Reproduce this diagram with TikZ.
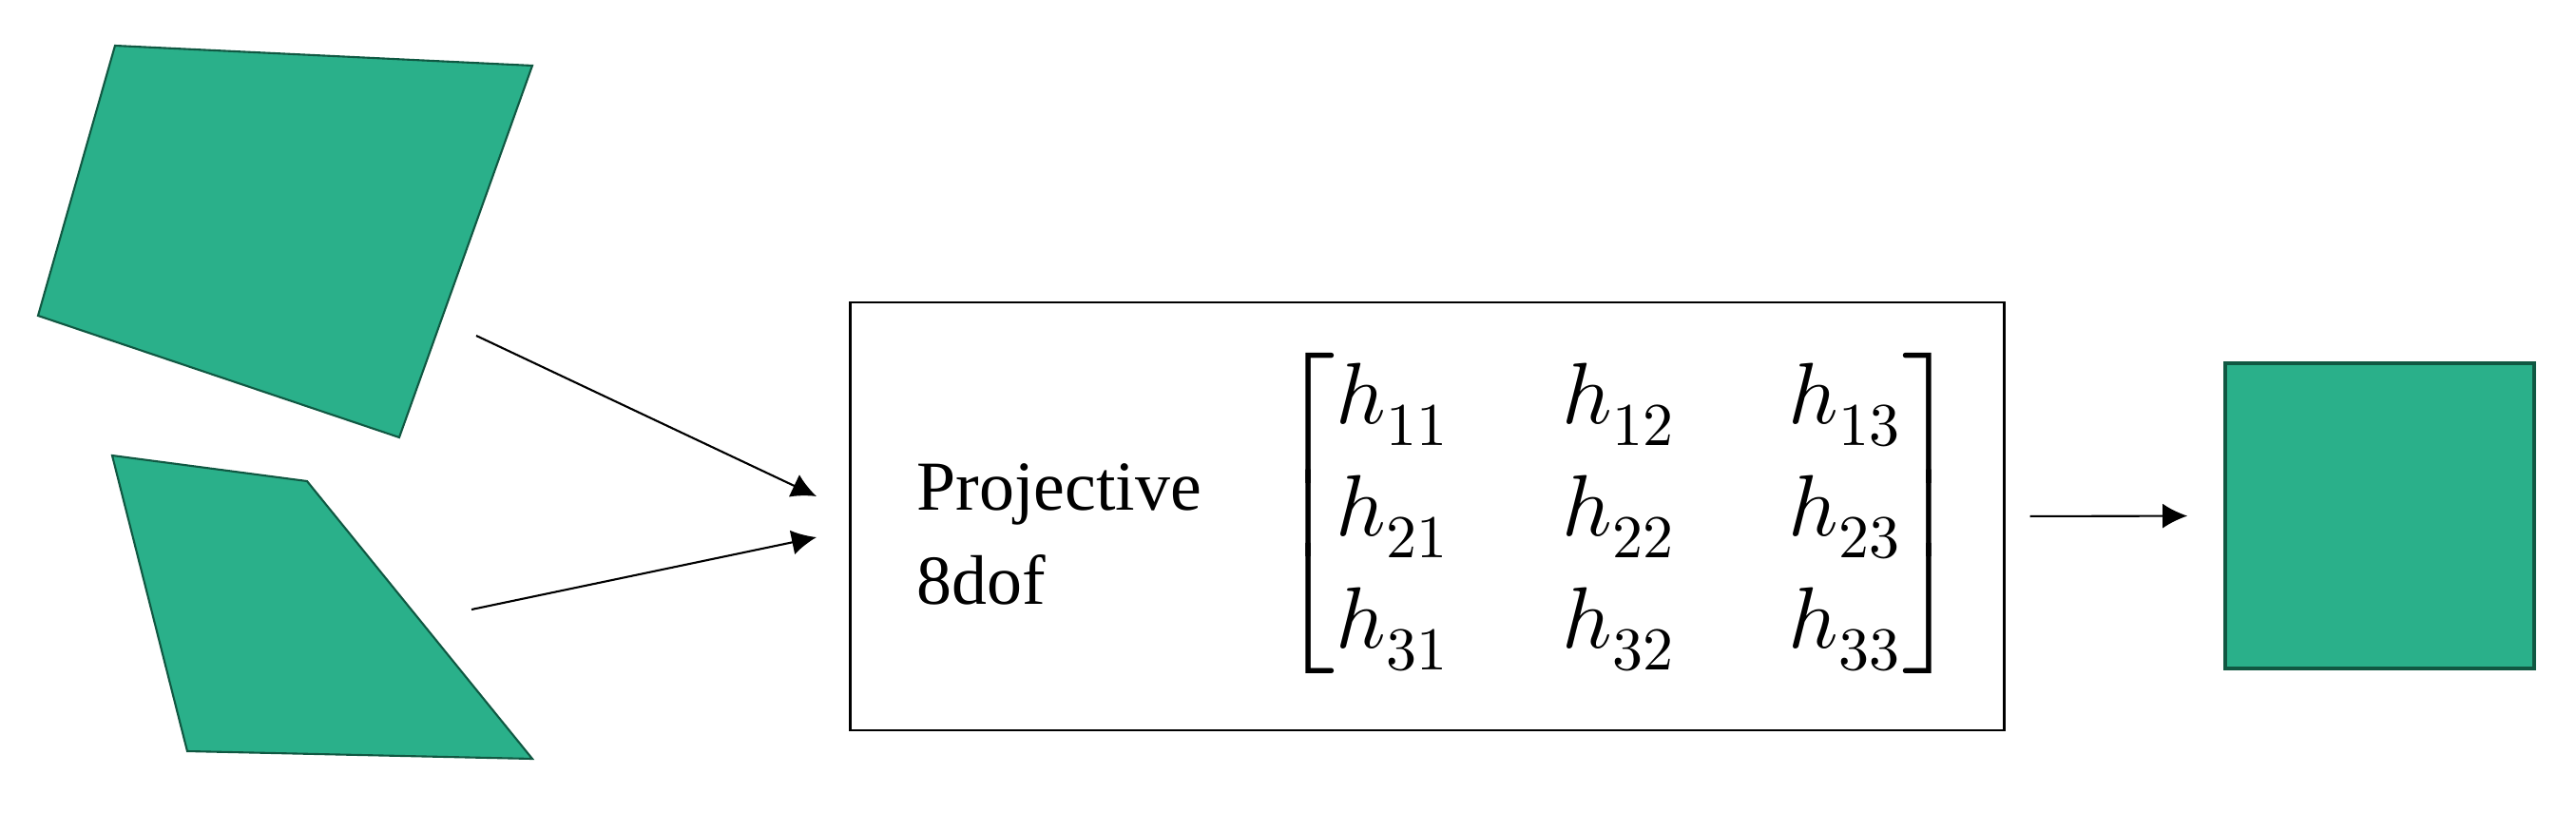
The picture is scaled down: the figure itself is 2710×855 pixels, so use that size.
\documentclass[tikz,border=0pt]{standalone}
\usepackage{amsmath}
\usepackage{fontspec}
\usepackage{unicode-math}
\setmainfont{Liberation Serif}
\usetikzlibrary{arrows.meta}
\definecolor{tile}{RGB}{42,176,138}
\definecolor{tileedge}{RGB}{16,88,66}

\begin{document}
\begin{tikzpicture}[x=0.01cm, y=-0.01cm,
  tile/.style={fill=tile, draw=tileedge, line width=0.6pt},
  link/.style={-{Latex[length=2.6mm,width=2.6mm]}, line width=0.6pt}]
\useasboundingbox (0,0) rectangle (2710,855);

\draw [tile] (121,48) -- (560,69) -- (420,460) -- (40,332) -- cycle;
\draw [tile] (118,479) -- (323,506) -- (560,798) -- (197,790) -- cycle;

\node [draw, line width=0.7pt, inner sep=0, minimum width=12.13cm, minimum height=4.5cm] (box) at (1501.5,543) {};
\node [anchor=base west, align=left, inner sep=0, font=\fontsize{21}{28}\selectfont] (kind) at (964,635) {Projective\\8dof};
\node [inner sep=0, font=\fontsize{26}{33.6}\selectfont] (hmat) at (1703,540)
  {$\setlength{\arraycolsep}{17pt}\begin{bmatrix}
    h_{11} & h_{12} & h_{13}\\
    h_{21} & h_{22} & h_{23}\\
    h_{31} & h_{32} & h_{33}
  \end{bmatrix}$};

\node [tile, line width=1pt, inner sep=0, minimum width=3.25cm, minimum height=3.21cm] (result) at (2503.5,542.5) {};

\coordinate (in1) at (501,353);
\coordinate (in2) at (496,641);
\coordinate (to1) at (859,522);
\coordinate (to2) at (859,565);

\draw [link] (in1) -- (to1);
\draw [link] (in2) -- (to2);
\draw [link, shorten <=0.26cm, shorten >=0.38cm] (box.east) -- (result.west);

\end{tikzpicture}
\end{document}
